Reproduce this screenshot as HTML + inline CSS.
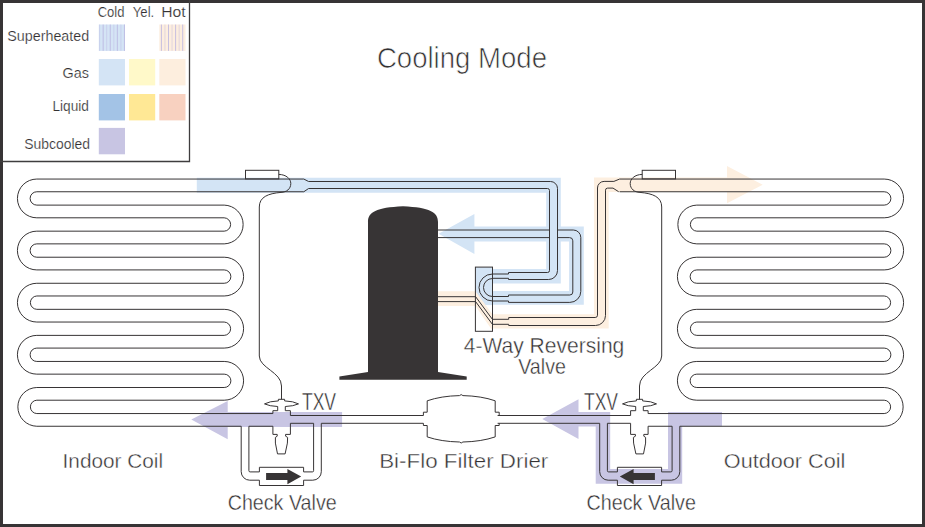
<!DOCTYPE html>
<html><head><meta charset="utf-8"><title>Cooling Mode</title>
<style>html,body{margin:0;padding:0;background:#fff;} svg{display:block;}</style>
</head><body>
<svg width="925" height="527" viewBox="0 0 925 527">
<rect x="0" y="0" width="925" height="527" fill="#373435"/>
<rect x="3" y="3" width="919" height="521" fill="#ffffff"/>
<g id="bands"><path fill="#d3e4f5" d="M196.8 177.7 L560.8 177.7 L560.8 283.4 L475.4 283.4 L475.4 269.1 L546.2 269.1 L546.2 192.8 L196.8 192.8 Z"/><path fill="#d3e4f5" d="M438.6 233.8 L474.4 214.1 L474.4 226.4 L583.8 226.4 L583.8 304.8 L475.4 304.8 L475.4 291 L569.1 291 L569.1 241.4 L474.4 241.4 L474.4 253.9 Z"/><rect fill="#d3e4f5" x="475.4" y="267.1" width="17.1" height="38"/><path fill="#fdefe0" d="M438 291.3 L475.4 291.3 L492.5 314.2 L594 314.2 L594 177.6 L727 177.6 L727 166 L762.7 184.7 L727 203.2 L727 191.9 L608.7 191.9 L608.7 328.6 L492.5 328.6 L492.5 330.8 L475.4 306 L438 306 Z"/><path fill="#c8c5e3" d="M191.3 419.6 L227.7 401 L227.7 412.1 L342.1 412.1 L342.1 427 L227.7 427 L227.7 439.3 Z"/><path fill="#c8c5e3" d="M542.3 419 L578.5 399.2 L578.5 412.1 L610.2 412.1 L610.2 468.9 L668 468.9 L668 412.1 L722 412.1 L722 426.2 L682.2 426.2 L682.2 483.7 L595.7 483.7 L595.7 426.6 L578.5 426.6 L578.5 438.9 Z"/></g>
<g fill="none" stroke="#373435" stroke-width="1">
<path d="M303.8 179.05 L36.8 179.05 A19.38 19.38 0 0 0 36.8 217.81 L224.2 217.81 A6.68 6.68 0 0 1 224.2 231.16 L36.8 231.16 A19.38 19.38 0 0 0 36.8 269.92 L224.2 269.92 A6.68 6.68 0 0 1 224.2 283.28 L36.8 283.28 A19.38 19.38 0 0 0 36.8 322.04 L224.2 322.04 A6.68 6.68 0 0 1 224.2 335.39 L36.8 335.39 A19.38 19.38 0 0 0 36.8 374.15 L224.2 374.15 A6.68 6.68 0 0 1 224.2 387.51 L36.8 387.51 A19.38 19.38 0 0 0 36.8 426.26 L241.2 426.26"/><path d="M303.8 191.75 L36.8 191.75 A6.68 6.68 0 0 0 36.8 205.11 L224.2 205.11 A19.38 19.38 0 0 1 224.2 243.86 L36.8 243.86 A6.68 6.68 0 0 0 36.8 257.22 L224.2 257.22 A19.38 19.38 0 0 1 224.2 295.98 L36.8 295.98 A6.68 6.68 0 0 0 36.8 309.33 L224.2 309.33 A19.38 19.38 0 0 1 224.2 348.09 L36.8 348.09 A6.68 6.68 0 0 0 36.8 361.45 L224.2 361.45 A19.38 19.38 0 0 1 224.2 400.21 L36.8 400.21 A6.68 6.68 0 0 0 36.8 413.56 L272.9 413.56"/><path d="M248.9 426.26 L272.9 426.26"/><path d="M272.9 413.56 L272.9 410.7 L277.7 410.7 L277.7 406.5 Q269.5 406.2 264.5 403.9 Q269.5 401.2 278.4 400.9 L278.4 399.3 L284.6 399.3 L284.6 400.9 Q293.5 401.2 298.5 403.9 Q293.5 406.2 285.3 406.5 L285.3 410.7 L290.4 410.7 L290.4 415.5"/><path d="M272.9 426.26 L272.9 434.4 L277.2 434.4 L277.2 436.2 L275.4 437.4 L275.4 443.1 L277.5 453.9 L285.1 453.9 L287.4 443.1 L287.6 437.4 L285.6 436.2 L285.6 434.4 L290.4 434.4 L290.4 423.3"/><path d="M290.4 415.5 L423.4 415.5"/><path d="M290.4 423.3 L313.6 423.3 M321.3 423.3 L423.4 423.3"/><path d="M241.2 426.26 L241.2 471.7 A8.5 8.5 0 0 0 249.7 480.2 L259.4 480.2 L259.4 485.5 L303.6 485.5 L303.6 480.2 L312.8 480.2 A8.5 8.5 0 0 0 321.3 471.7 L321.3 423.3"/><path d="M248.9 426.26 L248.9 470.7 A1.2 1.2 0 0 0 250.1 471.9 L259.4 471.9 L259.4 467.3 L303.6 467.3 L303.6 471.9 L312.4 471.9 A1.2 1.2 0 0 0 313.6 470.7 L313.6 423.3"/><path fill="#373435" stroke="none" d="M266.1 473 L287.4 473 L287.4 468.9 L301.2 476.5 L287.4 484.3 L287.4 479.9 L266.1 479.9 Z"/><rect x="245.5" y="170.3" width="33.3" height="8.6"/><path d="M278.8 174.4 C286.5 174.6 290.8 179 290.8 183.5 C290.8 189 286.5 192.2 281 192.4 C268 193.5 259.3 197 259.3 207 L259.3 356 C259.3 368 281.5 372 281.5 386 L281.5 399.3"/>
<g transform="translate(921 0) scale(-1 1)"><path d="M301.4 179.05 L36.8 179.05 A19.38 19.38 0 0 0 36.8 217.81 L224.2 217.81 A6.68 6.68 0 0 1 224.2 231.16 L36.8 231.16 A19.38 19.38 0 0 0 36.8 269.92 L224.2 269.92 A6.68 6.68 0 0 1 224.2 283.28 L36.8 283.28 A19.38 19.38 0 0 0 36.8 322.04 L224.2 322.04 A6.68 6.68 0 0 1 224.2 335.39 L36.8 335.39 A19.38 19.38 0 0 0 36.8 374.15 L224.2 374.15 A6.68 6.68 0 0 1 224.2 387.51 L36.8 387.51 A19.38 19.38 0 0 0 36.8 426.26 L241.2 426.26"/><path d="M301.4 191.75 L36.8 191.75 A6.68 6.68 0 0 0 36.8 205.11 L224.2 205.11 A19.38 19.38 0 0 1 224.2 243.86 L36.8 243.86 A6.68 6.68 0 0 0 36.8 257.22 L224.2 257.22 A19.38 19.38 0 0 1 224.2 295.98 L36.8 295.98 A6.68 6.68 0 0 0 36.8 309.33 L224.2 309.33 A19.38 19.38 0 0 1 224.2 348.09 L36.8 348.09 A6.68 6.68 0 0 0 36.8 361.45 L224.2 361.45 A19.38 19.38 0 0 1 224.2 400.21 L36.8 400.21 A6.68 6.68 0 0 0 36.8 413.56 L272.9 413.56"/><path d="M248.9 426.26 L272.9 426.26"/><path d="M272.9 413.56 L272.9 410.7 L277.7 410.7 L277.7 406.5 Q269.5 406.2 264.5 403.9 Q269.5 401.2 278.4 400.9 L278.4 399.3 L284.6 399.3 L284.6 400.9 Q293.5 401.2 298.5 403.9 Q293.5 406.2 285.3 406.5 L285.3 410.7 L290.4 410.7 L290.4 415.5"/><path d="M272.9 426.26 L272.9 434.4 L277.2 434.4 L277.2 436.2 L275.4 437.4 L275.4 443.1 L277.5 453.9 L285.1 453.9 L287.4 443.1 L287.6 437.4 L285.6 436.2 L285.6 434.4 L290.4 434.4 L290.4 423.3"/><path d="M290.4 415.5 L423.4 415.5"/><path d="M290.4 423.3 L313.6 423.3 M321.3 423.3 L423.4 423.3"/><path d="M241.2 426.26 L241.2 471.7 A8.5 8.5 0 0 0 249.7 480.2 L259.4 480.2 L259.4 485.5 L303.6 485.5 L303.6 480.2 L312.8 480.2 A8.5 8.5 0 0 0 321.3 471.7 L321.3 423.3"/><path d="M248.9 426.26 L248.9 470.7 A1.2 1.2 0 0 0 250.1 471.9 L259.4 471.9 L259.4 467.3 L303.6 467.3 L303.6 471.9 L312.4 471.9 A1.2 1.2 0 0 0 313.6 470.7 L313.6 423.3"/><path fill="#373435" stroke="none" d="M266.1 473 L287.4 473 L287.4 468.9 L301.2 476.5 L287.4 484.3 L287.4 479.9 L266.1 479.9 Z"/><rect x="245.5" y="170.3" width="33.3" height="8.6"/><path d="M278.8 174.4 C286.5 174.6 290.8 179 290.8 183.5 C290.8 189 286.5 192.2 281 192.4 C268 193.5 259.3 197 259.3 207 L259.3 356 C259.3 368 281.5 372 281.5 386 L281.5 399.3"/></g>
<path d="M303.8 179.05 L308.6 181.5 L550.5 181.5 A7 7 0 0 1 557.5 188.5 L557.5 270.6 A8.9 8.9 0 0 1 548.6 279.5 L508.5 279.5 L508.5 278.3 L492.5 278.3"/><path d="M303.8 191.75 L308.6 188.5 L547.5 188.5 A2 2 0 0 1 549.5 190.5 L549.5 270.5 A2 2 0 0 1 547.5 272.5 L508.5 272.5 L508.5 274 L492.5 274"/><path d="M492.5 274 A13.5 13.5 0 0 0 492.5 301 L508.5 301 L508.5 302.4 L569.8 302.4 A11 11 0 0 0 580.8 291.4 L580.8 237.5 A7.5 7.5 0 0 0 573.3 230 L557.5 230 M549.5 230 L438 230"/><path d="M492.5 278.5 A9 9 0 0 0 492.5 296.5 L508.5 296.5 L508.5 295 L569.8 295 A3 3 0 0 0 572.8 292 L572.8 240.8 A3.2 3.2 0 0 0 569.6 237.6 L557.5 237.6 M549.5 237.6 L438 237.6"/><path d="M438 296.7 L475.6 296.7 L492.4 319.3 L508.7 319.3 L508.7 317.5 L595.2 317.5 A2.3 2.3 0 0 0 597.5 315.2 L597.5 188 A6.6 6.6 0 0 1 604.1 181.4 L613.9 181.4 L619.6 179.05"/><path d="M438 301.6 L475.6 301.6 L492.4 324.3 L508.7 324.3 L508.7 325.5 L595.5 325.5 A10 10 0 0 0 605.5 315.5 L605.5 190.2 A2.1 2.1 0 0 1 607.6 188.1 L613 188.1 L618.7 191.75"/><rect x="475.4" y="267.1" width="17.1" height="64.2"/><path d="M423.4 415.5 L423.4 412.2 L427.2 412.2 L427.2 400.8 Q441 396 459.5 395.6 L461.2 394.6 L462.9 395.6 Q481.4 396 495.2 400.8 L495.2 412.2 L499.2 412.2 L499.2 415.5 M423.4 423.3 L423.4 425.5 L427.2 425.5 L427.2 436.9 Q441 441.6 459.5 442 L461.2 443 L462.9 442 Q481.4 441.6 495.2 436.9 L495.2 425.5 L499.2 425.5 L499.2 423.3"/>
</g>
<path fill="#373435" stroke="none" d="M368 372 L368 222 C368 212 376 207.5 403 206.2 C430 207.5 438 212 438 222 L438 372 L466.7 376.4 L466.7 379.8 L339.4 379.8 L339.4 376.4 Z"/>
<g><rect x="98.8" y="24.5" width="26.2" height="26.4" fill="#d4e4f5"/><rect x="99.1" y="24.5" width="1" height="26.4" fill="#b9b4e0" opacity="0.4"/><rect x="102.65" y="24.5" width="1" height="26.4" fill="#b9b4e0" opacity="0.8"/><rect x="106.2" y="24.5" width="1" height="26.4" fill="#b9b4e0" opacity="0.4"/><rect x="109.75" y="24.5" width="1" height="26.4" fill="#b9b4e0" opacity="0.8"/><rect x="113.3" y="24.5" width="1" height="26.4" fill="#b9b4e0" opacity="0.4"/><rect x="116.85" y="24.5" width="1" height="26.4" fill="#b9b4e0" opacity="0.8"/><rect x="120.4" y="24.5" width="1" height="26.4" fill="#b9b4e0" opacity="0.4"/><rect x="123.95" y="24.5" width="1" height="26.4" fill="#b9b4e0" opacity="0.8"/><rect x="159.3" y="24.5" width="26.2" height="26.4" fill="#fdeedf"/><rect x="160.9" y="24.5" width="1" height="26.4" fill="#b9b4e0" opacity="0.8"/><rect x="164.45" y="24.5" width="1" height="26.4" fill="#b9b4e0" opacity="0.4"/><rect x="168" y="24.5" width="1" height="26.4" fill="#b9b4e0" opacity="0.8"/><rect x="171.55" y="24.5" width="1" height="26.4" fill="#b9b4e0" opacity="0.4"/><rect x="175.1" y="24.5" width="1" height="26.4" fill="#b9b4e0" opacity="0.8"/><rect x="178.65" y="24.5" width="1" height="26.4" fill="#b9b4e0" opacity="0.4"/><rect x="182.2" y="24.5" width="1" height="26.4" fill="#b9b4e0" opacity="0.8"/><rect x="98.8" y="59" width="26.2" height="26.4" fill="#d4e4f5"/><rect x="98.8" y="94" width="26.2" height="26.4" fill="#a3c3e6"/><rect x="129" y="59" width="26.2" height="26.4" fill="#fff9c9"/><rect x="129" y="94" width="26.2" height="26.4" fill="#ffe895"/><rect x="159.3" y="59" width="26.2" height="26.4" fill="#fdeede"/><rect x="159.3" y="94" width="26.2" height="26.4" fill="#f8d1c0"/><rect x="98.8" y="127.9" width="26.2" height="26.4" fill="#c8c5e3"/></g>
<path d="M0 161.5 L189.5 161.5 L189.5 0" fill="none" stroke="#3f3d3e" stroke-width="1.3"/>
<g font-family="Liberation Sans, sans-serif" fill="#333132"><text x="97.7" y="17.2" font-size="15" textLength="26.8" lengthAdjust="spacingAndGlyphs" stroke="#fff" stroke-width="0.2">Cold</text><text x="132.8" y="17.2" font-size="15" textLength="21.4" lengthAdjust="spacingAndGlyphs" stroke="#fff" stroke-width="0.2">Yel.</text><text x="161.3" y="17.2" font-size="15" textLength="24.4" lengthAdjust="spacingAndGlyphs" stroke="#fff" stroke-width="0.2">Hot</text><text x="7.3" y="41.2" font-size="15" textLength="81.9" lengthAdjust="spacingAndGlyphs" stroke="#fff" stroke-width="0.2">Superheated</text><text x="62.6" y="78.2" font-size="15" textLength="26.4" lengthAdjust="spacingAndGlyphs" stroke="#fff" stroke-width="0.2">Gas</text><text x="52.4" y="111.2" font-size="15" textLength="36.5" lengthAdjust="spacingAndGlyphs" stroke="#fff" stroke-width="0.2">Liquid</text><text x="24.2" y="148.8" font-size="15" textLength="65.8" lengthAdjust="spacingAndGlyphs" stroke="#fff" stroke-width="0.2">Subcooled</text><text x="376.9" y="67.8" font-size="29" textLength="170.1" lengthAdjust="spacingAndGlyphs" stroke="#fff" stroke-width="0.7">Cooling Mode</text><text x="62.6" y="467.8" font-size="21" textLength="100.5" lengthAdjust="spacingAndGlyphs" stroke="#fff" stroke-width="0.4">Indoor Coil</text><text x="379.2" y="467.7" font-size="21" textLength="169.1" lengthAdjust="spacingAndGlyphs" stroke="#fff" stroke-width="0.4">Bi-Flo Filter Drier</text><text x="723.8" y="467.9" font-size="21" textLength="121.6" lengthAdjust="spacingAndGlyphs" stroke="#fff" stroke-width="0.4">Outdoor Coil</text><text x="227.7" y="510.1" font-size="22.8" textLength="109" lengthAdjust="spacingAndGlyphs" stroke="#fff" stroke-width="0.4">Check Valve</text><text x="586.5" y="510.1" font-size="22.8" textLength="109.4" lengthAdjust="spacingAndGlyphs" stroke="#fff" stroke-width="0.4">Check Valve</text><text x="301.9" y="409.8" font-size="23" textLength="34.2" lengthAdjust="spacingAndGlyphs" stroke="#fff" stroke-width="0.4">TXV</text><text x="584" y="409.8" font-size="23" textLength="34" lengthAdjust="spacingAndGlyphs" stroke="#fff" stroke-width="0.4">TXV</text><text x="463.8" y="353.4" font-size="22" textLength="160.5" lengthAdjust="spacingAndGlyphs" stroke="#fff" stroke-width="0.4">4-Way Reversing</text><text x="518.2" y="373.8" font-size="22" textLength="47.7" lengthAdjust="spacingAndGlyphs" stroke="#fff" stroke-width="0.4">Valve</text></g>
</svg>
</body></html>
